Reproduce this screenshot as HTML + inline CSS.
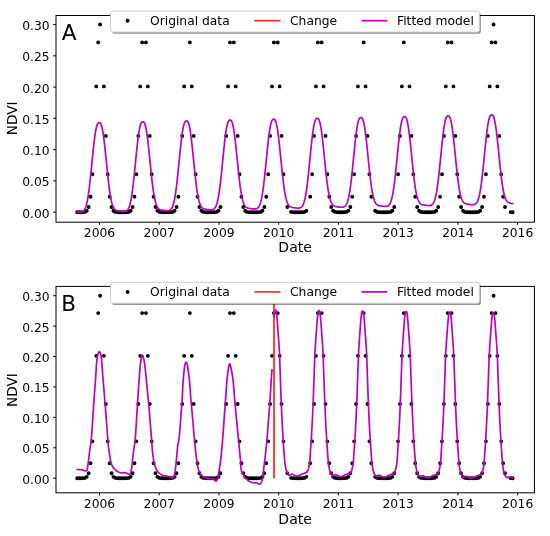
<!DOCTYPE html><html><head><meta charset="utf-8"><style>html,body{margin:0;padding:0;background:#fff;}svg{display:block;}text{font-family:'DejaVu Sans', 'Liberation Sans', sans-serif;fill:#000;}</style></head><body>
<svg width="550" height="536" viewBox="0 0 550 536">
<rect width="550" height="536" fill="#fff"/>
<g><clipPath id="clipA"><rect x="56.00" y="15.50" width="478.40" height="206.70"/></clipPath><path d="M77.18,212.20h0M79.09,212.20h0M81.00,212.19h0M82.91,212.14h0M84.82,211.89h0M86.73,210.80h0M88.64,207.07h0M90.55,196.80h0M92.46,174.31h0M96.28,86.41h0M98.19,42.41h0M100.10,24.55h0M103.92,86.41h0M105.83,135.91h0M107.74,174.31h0M109.65,196.80h0M111.56,207.07h0M113.47,210.80h0M115.38,211.89h0M117.29,212.14h0M119.20,212.19h0M121.11,212.20h0M123.02,212.20h0M124.93,212.19h0M126.84,212.14h0M128.75,211.89h0M130.66,210.80h0M132.57,207.07h0M134.48,196.80h0M136.39,174.31h0M138.30,135.91h0M140.21,86.41h0M142.12,42.41h0M144.03,24.55h0M145.94,42.41h0M147.85,86.41h0M149.76,135.91h0M151.67,174.31h0M153.58,196.80h0M155.49,207.07h0M157.40,210.80h0M159.31,211.89h0M161.22,212.14h0M163.13,212.19h0M165.04,212.20h0M166.95,212.20h0M168.86,212.19h0M170.77,212.14h0M172.68,211.89h0M174.59,210.80h0M176.50,207.07h0M178.41,196.80h0M182.23,135.91h0M184.14,86.41h0M187.96,24.55h0M189.87,42.41h0M191.78,86.41h0M193.69,135.91h0M195.60,174.31h0M197.51,196.80h0M199.42,207.07h0M201.33,210.80h0M203.24,211.89h0M205.15,212.14h0M207.06,212.19h0M208.97,212.20h0M210.88,212.20h0M212.79,212.19h0M214.70,212.14h0M216.61,211.89h0M218.52,210.80h0M220.43,207.07h0M226.16,135.91h0M228.07,86.41h0M229.98,42.41h0M231.89,24.55h0M233.80,42.41h0M235.71,86.41h0M237.62,135.91h0M239.53,174.31h0M241.44,196.80h0M243.35,207.07h0M245.26,210.80h0M247.17,211.89h0M249.08,212.14h0M250.99,212.19h0M252.90,212.20h0M254.81,212.20h0M256.72,212.19h0M258.63,212.14h0M260.54,211.89h0M262.45,210.80h0M264.36,207.07h0M266.27,196.80h0M268.18,174.31h0M270.09,135.91h0M272.00,86.41h0M273.91,42.41h0M275.82,24.55h0M277.73,42.41h0M279.64,86.41h0M281.55,135.91h0M283.46,174.31h0M287.28,207.07h0M291.10,211.89h0M293.01,212.14h0M294.92,212.19h0M296.83,212.20h0M298.74,212.20h0M300.65,212.19h0M302.56,212.14h0M304.47,211.89h0M306.38,210.80h0M310.20,196.80h0M312.11,174.31h0M314.02,135.91h0M315.93,86.41h0M317.84,42.41h0M319.75,24.55h0M321.66,42.41h0M323.57,86.41h0M325.48,135.91h0M327.39,174.31h0M329.30,196.80h0M331.21,207.07h0M333.12,210.80h0M335.03,211.89h0M336.94,212.14h0M338.85,212.19h0M340.76,212.20h0M342.67,212.19h0M344.58,212.14h0M346.49,211.89h0M348.40,210.80h0M350.31,207.07h0M352.22,196.80h0M354.13,174.31h0M356.04,135.91h0M357.95,86.41h0M361.77,24.55h0M363.68,42.41h0M365.59,86.41h0M367.50,135.91h0M369.41,174.31h0M371.32,196.80h0M375.14,210.80h0M377.05,211.89h0M378.96,212.14h0M380.87,212.19h0M382.78,212.20h0M384.69,212.20h0M386.60,212.19h0M388.51,212.14h0M390.42,211.89h0M392.33,210.80h0M394.24,207.07h0M398.06,174.31h0M399.97,135.91h0M401.88,86.41h0M403.79,42.41h0M405.70,24.55h0M409.52,86.41h0M411.43,135.91h0M413.34,174.31h0M415.25,196.80h0M417.16,207.07h0M419.07,210.80h0M420.98,211.89h0M422.89,212.14h0M424.80,212.19h0M426.71,212.20h0M428.62,212.20h0M430.53,212.19h0M432.44,212.14h0M434.35,211.89h0M436.26,210.80h0M438.17,207.07h0M440.08,196.80h0M441.99,174.31h0M443.90,135.91h0M445.81,86.41h0M447.72,42.41h0M449.63,24.55h0M451.54,42.41h0M453.45,86.41h0M455.36,135.91h0M457.27,174.31h0M459.18,196.80h0M461.09,207.07h0M463.00,210.80h0M464.91,211.89h0M466.82,212.14h0M468.73,212.19h0M470.64,212.20h0M472.55,212.20h0M474.46,212.19h0M476.37,212.14h0M478.28,211.89h0M480.19,210.80h0M482.10,207.07h0M484.01,196.80h0M485.92,174.31h0M487.83,135.91h0M489.74,86.41h0M491.65,42.41h0M493.56,24.55h0M495.47,42.41h0M497.38,86.41h0M499.29,135.91h0M501.20,174.31h0M503.11,196.80h0M505.02,207.07h0M510.75,212.14h0M512.66,212.19h0" stroke="#000" stroke-width="3.9" stroke-linecap="round" fill="none" clip-path="url(#clipA)"/><path d="M77.18,212.18 L77.54,212.22 L77.91,212.25 L78.27,212.29 L78.63,212.32 L79.00,212.35 L79.36,212.37 L79.72,212.39 L80.09,212.39 L80.45,212.39 L80.81,212.37 L81.18,212.33 L81.54,212.27 L81.90,212.17 L82.26,212.05 L82.63,211.88 L82.99,211.66 L83.35,211.38 L83.72,211.03 L84.08,210.59 L84.44,210.06 L84.81,209.42 L85.17,208.66 L85.53,207.76 L85.90,206.72 L86.26,205.50 L86.62,204.12 L86.99,202.54 L87.35,200.77 L87.71,198.79 L88.08,196.61 L88.44,194.21 L88.80,191.62 L89.17,188.82 L89.53,185.83 L89.89,182.67 L90.26,179.35 L90.62,175.91 L90.98,172.35 L91.34,168.71 L91.71,165.03 L92.07,161.34 L92.43,157.66 L92.80,154.04 L93.16,150.52 L93.52,147.11 L93.89,143.86 L94.25,140.79 L94.61,137.93 L94.98,135.29 L95.34,132.90 L95.70,130.77 L96.07,128.90 L96.43,127.30 L96.79,125.97 L97.16,124.89 L97.52,124.05 L97.88,123.43 L98.25,123.02 L98.61,122.77 L98.97,122.66 L99.34,122.61 L99.70,122.65 L100.06,122.83 L100.42,123.19 L100.79,123.75 L101.15,124.55 L101.51,125.60 L101.88,126.91 L102.24,128.49 L102.60,130.33 L102.97,132.44 L103.33,134.81 L103.69,137.42 L104.06,140.25 L104.42,143.29 L104.78,146.51 L105.15,149.87 L105.51,153.36 L105.87,156.93 L106.24,160.54 L106.60,164.17 L106.96,167.79 L107.33,171.35 L107.69,174.83 L108.05,178.20 L108.42,181.43 L108.78,184.51 L109.14,187.41 L109.51,190.13 L109.87,192.64 L110.23,194.96 L110.59,197.08 L110.96,198.99 L111.32,200.70 L111.68,202.23 L112.05,203.57 L112.41,204.75 L112.77,205.78 L113.14,206.66 L113.50,207.41 L113.86,208.05 L114.23,208.59 L114.59,209.05 L114.95,209.43 L115.32,209.74 L115.68,210.00 L116.04,210.21 L116.41,210.39 L116.77,210.54 L117.13,210.66 L117.50,210.77 L117.86,210.85 L118.22,210.93 L118.59,211.00 L118.95,211.06 L119.31,211.12 L119.67,211.17 L120.04,211.22 L120.40,211.27 L120.76,211.31 L121.13,211.36 L121.49,211.39 L121.85,211.43 L122.22,211.46 L122.58,211.49 L122.94,211.51 L123.31,211.53 L123.67,211.53 L124.03,211.53 L124.40,211.51 L124.76,211.47 L125.12,211.41 L125.49,211.32 L125.85,211.20 L126.21,211.03 L126.58,210.82 L126.94,210.54 L127.30,210.20 L127.67,209.77 L128.03,209.24 L128.39,208.61 L128.75,207.86 L129.12,206.97 L129.48,205.94 L129.84,204.74 L130.21,203.36 L130.57,201.80 L130.93,200.04 L131.30,198.08 L131.66,195.91 L132.02,193.53 L132.39,190.95 L132.75,188.16 L133.11,185.19 L133.48,182.04 L133.84,178.74 L134.20,175.29 L134.57,171.74 L134.93,168.11 L135.29,164.43 L135.66,160.74 L136.02,157.06 L136.38,153.44 L136.75,149.90 L137.11,146.49 L137.47,143.22 L137.83,140.14 L138.20,137.26 L138.56,134.61 L138.92,132.21 L139.29,130.06 L139.65,128.17 L140.01,126.55 L140.38,125.20 L140.74,124.10 L141.10,123.24 L141.47,122.61 L141.83,122.18 L142.19,121.93 L142.56,121.80 L142.92,121.75 L143.28,121.78 L143.65,121.95 L144.01,122.30 L144.37,122.85 L144.74,123.63 L145.10,124.66 L145.46,125.95 L145.83,127.51 L146.19,129.33 L146.55,131.42 L146.91,133.77 L147.28,136.37 L147.64,139.19 L148.00,142.21 L148.37,145.42 L148.73,148.77 L149.09,152.25 L149.46,155.81 L149.82,159.43 L150.18,163.06 L150.55,166.67 L150.91,170.24 L151.27,173.73 L151.64,177.10 L152.00,180.35 L152.36,183.44 L152.73,186.35 L153.09,189.08 L153.45,191.62 L153.82,193.95 L154.18,196.07 L154.54,198.00 L154.91,199.73 L155.27,201.27 L155.63,202.63 L155.99,203.82 L156.36,204.85 L156.72,205.74 L157.08,206.51 L157.45,207.15 L157.81,207.70 L158.17,208.16 L158.54,208.54 L158.90,208.86 L159.26,209.12 L159.63,209.34 L159.99,209.52 L160.35,209.67 L160.72,209.80 L161.08,209.90 L161.44,209.99 L161.81,210.07 L162.17,210.14 L162.53,210.20 L162.90,210.26 L163.26,210.31 L163.62,210.36 L163.99,210.41 L164.35,210.45 L164.71,210.49 L165.08,210.53 L165.44,210.57 L165.80,210.60 L166.16,210.63 L166.53,210.65 L166.89,210.67 L167.25,210.68 L167.62,210.67 L167.98,210.65 L168.34,210.62 L168.71,210.56 L169.07,210.47 L169.43,210.35 L169.80,210.19 L170.16,209.98 L170.52,209.71 L170.89,209.36 L171.25,208.94 L171.61,208.43 L171.98,207.80 L172.34,207.06 L172.70,206.18 L173.07,205.16 L173.43,203.97 L173.79,202.61 L174.16,201.06 L174.52,199.31 L174.88,197.37 L175.24,195.21 L175.61,192.85 L175.97,190.28 L176.33,187.51 L176.70,184.55 L177.06,181.41 L177.42,178.12 L177.79,174.68 L178.15,171.14 L178.51,167.51 L178.88,163.84 L179.24,160.14 L179.60,156.46 L179.97,152.83 L180.33,149.29 L180.69,145.87 L181.06,142.59 L181.42,139.49 L181.78,136.60 L182.15,133.93 L182.51,131.51 L182.87,129.34 L183.24,127.44 L183.60,125.80 L183.96,124.42 L184.32,123.31 L184.69,122.44 L185.05,121.79 L185.41,121.35 L185.78,121.08 L186.14,120.95 L186.50,120.90 L186.87,120.92 L187.23,121.07 L187.59,121.41 L187.96,121.94 L188.32,122.71 L188.68,123.72 L189.05,124.99 L189.41,126.53 L189.77,128.34 L190.14,130.41 L190.50,132.74 L190.86,135.32 L191.23,138.12 L191.59,141.13 L191.95,144.33 L192.32,147.67 L192.68,151.14 L193.04,154.70 L193.40,158.31 L193.77,161.94 L194.13,165.56 L194.49,169.13 L194.86,172.63 L195.22,176.01 L195.58,179.27 L195.95,182.37 L196.31,185.29 L196.67,188.04 L197.04,190.58 L197.40,192.93 L197.76,195.07 L198.13,197.01 L198.49,198.76 L198.85,200.31 L199.22,201.68 L199.58,202.88 L199.94,203.92 L200.31,204.83 L200.67,205.60 L201.03,206.25 L201.40,206.81 L201.76,207.27 L202.12,207.66 L202.48,207.98 L202.85,208.25 L203.21,208.47 L203.57,208.65 L203.94,208.80 L204.30,208.93 L204.66,209.04 L205.03,209.13 L205.39,209.21 L205.75,209.27 L206.12,209.34 L206.48,209.39 L206.84,209.45 L207.21,209.50 L207.57,209.55 L207.93,209.59 L208.30,209.63 L208.66,209.67 L209.02,209.71 L209.39,209.74 L209.75,209.77 L210.11,209.79 L210.48,209.81 L210.84,209.82 L211.20,209.82 L211.56,209.80 L211.93,209.76 L212.29,209.71 L212.65,209.62 L213.02,209.50 L213.38,209.34 L213.74,209.14 L214.11,208.87 L214.47,208.53 L214.83,208.12 L215.20,207.61 L215.56,206.99 L215.92,206.26 L216.29,205.39 L216.65,204.38 L217.01,203.20 L217.38,201.85 L217.74,200.32 L218.10,198.59 L218.47,196.65 L218.83,194.51 L219.19,192.17 L219.56,189.61 L219.92,186.85 L220.28,183.91 L220.65,180.78 L221.01,177.50 L221.37,174.07 L221.73,170.54 L222.10,166.92 L222.46,163.24 L222.82,159.55 L223.19,155.86 L223.55,152.23 L223.91,148.68 L224.28,145.25 L224.64,141.96 L225.00,138.85 L225.37,135.94 L225.73,133.26 L226.09,130.81 L226.46,128.63 L226.82,126.70 L227.18,125.05 L227.55,123.66 L227.91,122.52 L228.27,121.63 L228.64,120.97 L229.00,120.52 L229.36,120.24 L229.73,120.10 L230.09,120.04 L230.45,120.05 L230.81,120.20 L231.18,120.52 L231.54,121.04 L231.90,121.79 L232.27,122.78 L232.63,124.04 L232.99,125.55 L233.36,127.34 L233.72,129.40 L234.08,131.71 L234.45,134.27 L234.81,137.06 L235.17,140.06 L235.54,143.24 L235.90,146.58 L236.26,150.04 L236.63,153.59 L236.99,157.20 L237.35,160.83 L237.72,164.45 L238.08,168.02 L238.44,171.52 L238.81,174.92 L239.17,178.18 L239.53,181.29 L239.89,184.23 L240.26,186.99 L240.62,189.55 L240.98,191.91 L241.35,194.07 L241.71,196.02 L242.07,197.78 L242.44,199.35 L242.80,200.73 L243.16,201.94 L243.53,203.00 L243.89,203.91 L244.25,204.69 L244.62,205.35 L244.98,205.91 L245.34,206.38 L245.71,206.78 L246.07,207.10 L246.43,207.37 L246.80,207.60 L247.16,207.78 L247.52,207.93 L247.89,208.06 L248.25,208.17 L248.61,208.26 L248.97,208.34 L249.34,208.41 L249.70,208.47 L250.06,208.53 L250.43,208.59 L250.79,208.64 L251.15,208.68 L251.52,208.73 L251.88,208.77 L252.24,208.81 L252.61,208.85 L252.97,208.88 L253.33,208.91 L253.70,208.93 L254.06,208.95 L254.42,208.96 L254.79,208.96 L255.15,208.94 L255.51,208.91 L255.88,208.85 L256.24,208.77 L256.60,208.66 L256.97,208.50 L257.33,208.29 L257.69,208.03 L258.05,207.70 L258.42,207.29 L258.78,206.79 L259.14,206.18 L259.51,205.46 L259.87,204.60 L260.23,203.60 L260.60,202.43 L260.96,201.09 L261.32,199.57 L261.69,197.86 L262.05,195.94 L262.41,193.81 L262.78,191.48 L263.14,188.94 L263.50,186.20 L263.87,183.26 L264.23,180.15 L264.59,176.87 L264.96,173.46 L265.32,169.93 L265.68,166.32 L266.05,162.64 L266.41,158.95 L266.77,155.26 L267.13,151.63 L267.50,148.07 L267.86,144.63 L268.22,141.33 L268.59,138.20 L268.95,135.28 L269.31,132.58 L269.68,130.12 L270.04,127.92 L270.40,125.97 L270.77,124.30 L271.13,122.89 L271.49,121.73 L271.86,120.83 L272.22,120.15 L272.58,119.69 L272.95,119.40 L273.31,119.25 L273.67,119.18 L274.04,119.19 L274.40,119.33 L274.76,119.63 L275.13,120.14 L275.49,120.87 L275.85,121.85 L276.22,123.08 L276.58,124.58 L276.94,126.35 L277.30,128.38 L277.67,130.68 L278.03,133.22 L278.39,136.00 L278.76,138.98 L279.12,142.15 L279.48,145.48 L279.85,148.93 L280.21,152.48 L280.57,156.08 L280.94,159.71 L281.30,163.34 L281.66,166.92 L282.03,170.42 L282.39,173.82 L282.75,177.10 L283.12,180.22 L283.48,183.17 L283.84,185.94 L284.21,188.52 L284.57,190.89 L284.93,193.07 L285.30,195.03 L285.66,196.80 L286.02,198.38 L286.38,199.78 L286.75,201.00 L287.11,202.07 L287.47,202.99 L287.84,203.78 L288.20,204.45 L288.56,205.02 L288.93,205.49 L289.29,205.89 L289.65,206.22 L290.02,206.50 L290.38,206.72 L290.74,206.91 L291.11,207.07 L291.47,207.20 L291.83,207.31 L292.20,207.40 L292.56,207.48 L292.92,207.55 L293.29,207.61 L293.65,207.67 L294.01,207.72 L294.38,207.77 L294.74,207.82 L295.10,207.87 L295.46,207.91 L295.83,207.95 L296.19,207.99 L296.55,208.02 L296.92,208.05 L297.28,208.07 L297.64,208.09 L298.01,208.10 L298.37,208.10 L298.73,208.09 L299.10,208.05 L299.46,208.00 L299.82,207.92 L300.19,207.81 L300.55,207.65 L300.91,207.45 L301.28,207.19 L301.64,206.87 L302.00,206.46 L302.37,205.97 L302.73,205.37 L303.09,204.65 L303.46,203.81 L303.82,202.81 L304.18,201.66 L304.54,200.34 L304.91,198.83 L305.27,197.13 L305.63,195.22 L306.00,193.11 L306.36,190.79 L306.72,188.27 L307.09,185.54 L307.45,182.62 L307.81,179.52 L308.18,176.25 L308.54,172.85 L308.90,169.33 L309.27,165.71 L309.63,162.05 L309.99,158.35 L310.36,154.67 L310.72,151.02 L311.08,147.46 L311.45,144.01 L311.81,140.70 L312.17,137.56 L312.54,134.62 L312.90,131.91 L313.26,129.43 L313.62,127.20 L313.99,125.24 L314.35,123.55 L314.71,122.12 L315.08,120.95 L315.44,120.03 L315.80,119.34 L316.17,118.85 L316.53,118.55 L316.89,118.40 L317.26,118.33 L317.62,118.33 L317.98,118.45 L318.35,118.75 L318.71,119.24 L319.07,119.95 L319.44,120.91 L319.80,122.13 L320.16,123.61 L320.53,125.36 L320.89,127.37 L321.25,129.65 L321.62,132.18 L321.98,134.93 L322.34,137.90 L322.71,141.06 L323.07,144.38 L323.43,147.82 L323.79,151.37 L324.16,154.97 L324.52,158.60 L324.88,162.22 L325.25,165.81 L325.61,169.32 L325.97,172.73 L326.34,176.01 L326.70,179.15 L327.06,182.11 L327.43,184.90 L327.79,187.49 L328.15,189.88 L328.52,192.06 L328.88,194.04 L329.24,195.83 L329.61,197.42 L329.97,198.83 L330.33,200.06 L330.70,201.14 L331.06,202.07 L331.42,202.87 L331.79,203.55 L332.15,204.12 L332.51,204.61 L332.87,205.01 L333.24,205.34 L333.60,205.62 L333.96,205.85 L334.33,206.04 L334.69,206.20 L335.05,206.33 L335.42,206.44 L335.78,206.53 L336.14,206.62 L336.51,206.69 L336.87,206.75 L337.23,206.81 L337.60,206.86 L337.96,206.91 L338.32,206.96 L338.69,207.01 L339.05,207.05 L339.41,207.09 L339.78,207.13 L340.14,207.16 L340.50,207.19 L340.87,207.21 L341.23,207.23 L341.59,207.24 L341.95,207.24 L342.32,207.23 L342.68,207.20 L343.04,207.15 L343.41,207.07 L343.77,206.96 L344.13,206.81 L344.50,206.61 L344.86,206.36 L345.22,206.04 L345.59,205.64 L345.95,205.15 L346.31,204.56 L346.68,203.85 L347.04,203.01 L347.40,202.03 L347.77,200.89 L348.13,199.58 L348.49,198.08 L348.86,196.39 L349.22,194.51 L349.58,192.41 L349.95,190.11 L350.31,187.59 L350.67,184.88 L351.03,181.97 L351.40,178.88 L351.76,175.63 L352.12,172.23 L352.49,168.72 L352.85,165.11 L353.21,161.45 L353.58,157.75 L353.94,154.07 L354.30,150.42 L354.67,146.85 L355.03,143.39 L355.39,140.07 L355.76,136.92 L356.12,133.96 L356.48,131.23 L356.85,128.74 L357.21,126.50 L357.57,124.52 L357.94,122.80 L358.30,121.35 L358.66,120.17 L359.03,119.23 L359.39,118.52 L359.75,118.02 L360.11,117.71 L360.48,117.55 L360.84,117.47 L361.20,117.47 L361.57,117.58 L361.93,117.86 L362.29,118.34 L362.66,119.04 L363.02,119.98 L363.38,121.17 L363.75,122.64 L364.11,124.37 L364.47,126.36 L364.84,128.62 L365.20,131.13 L365.56,133.87 L365.93,136.83 L366.29,139.98 L366.65,143.28 L367.02,146.72 L367.38,150.26 L367.74,153.86 L368.11,157.48 L368.47,161.11 L368.83,164.70 L369.19,168.21 L369.56,171.63 L369.92,174.93 L370.28,178.07 L370.65,181.05 L371.01,183.85 L371.37,186.45 L371.74,188.86 L372.10,191.05 L372.46,193.05 L372.83,194.85 L373.19,196.45 L373.55,197.88 L373.92,199.12 L374.28,200.21 L374.64,201.15 L375.01,201.96 L375.37,202.65 L375.73,203.23 L376.10,203.72 L376.46,204.12 L376.82,204.46 L377.19,204.75 L377.55,204.98 L377.91,205.17 L378.28,205.33 L378.64,205.46 L379.00,205.57 L379.36,205.67 L379.73,205.75 L380.09,205.82 L380.45,205.89 L380.82,205.95 L381.18,206.00 L381.54,206.05 L381.91,206.10 L382.27,206.15 L382.63,206.19 L383.00,206.23 L383.36,206.26 L383.72,206.30 L384.09,206.33 L384.45,206.35 L384.81,206.37 L385.18,206.38 L385.54,206.38 L385.90,206.37 L386.27,206.34 L386.63,206.29 L386.99,206.22 L387.36,206.11 L387.72,205.96 L388.08,205.77 L388.44,205.52 L388.81,205.20 L389.17,204.81 L389.53,204.33 L389.90,203.75 L390.26,203.05 L390.62,202.22 L390.99,201.25 L391.35,200.12 L391.71,198.82 L392.08,197.34 L392.44,195.66 L392.80,193.79 L393.17,191.71 L393.53,189.42 L393.89,186.92 L394.26,184.22 L394.62,181.33 L394.98,178.25 L395.35,175.01 L395.71,171.62 L396.07,168.11 L396.44,164.51 L396.80,160.85 L397.16,157.16 L397.52,153.47 L397.89,149.82 L398.25,146.24 L398.61,142.77 L398.98,139.44 L399.34,136.28 L399.70,133.31 L400.07,130.56 L400.43,128.05 L400.79,125.79 L401.16,123.79 L401.52,122.06 L401.88,120.59 L402.25,119.38 L402.61,118.43 L402.97,117.70 L403.34,117.19 L403.70,116.87 L404.06,116.70 L404.43,116.62 L404.79,116.61 L405.15,116.71 L405.52,116.98 L405.88,117.44 L406.24,118.12 L406.60,119.04 L406.97,120.22 L407.33,121.67 L407.69,123.38 L408.06,125.36 L408.42,127.60 L408.78,130.09 L409.15,132.81 L409.51,135.76 L409.87,138.89 L410.24,142.19 L410.60,145.61 L410.96,149.14 L411.33,152.74 L411.69,156.37 L412.05,160.00 L412.42,163.59 L412.78,167.11 L413.14,170.54 L413.51,173.84 L413.87,177.00 L414.23,179.99 L414.60,182.80 L414.96,185.42 L415.32,187.83 L415.68,190.05 L416.05,192.06 L416.41,193.87 L416.77,195.49 L417.14,196.92 L417.50,198.18 L417.86,199.28 L418.23,200.23 L418.59,201.05 L418.95,201.74 L419.32,202.33 L419.68,202.83 L420.04,203.24 L420.41,203.58 L420.77,203.87 L421.13,204.10 L421.50,204.30 L421.86,204.46 L422.22,204.60 L422.59,204.71 L422.95,204.81 L423.31,204.89 L423.68,204.96 L424.04,205.03 L424.40,205.08 L424.76,205.14 L425.13,205.19 L425.49,205.24 L425.85,205.28 L426.22,205.33 L426.58,205.37 L426.94,205.40 L427.31,205.44 L427.67,205.47 L428.03,205.49 L428.40,205.51 L428.76,205.53 L429.12,205.53 L429.49,205.52 L429.85,205.49 L430.21,205.44 L430.58,205.36 L430.94,205.26 L431.30,205.12 L431.67,204.93 L432.03,204.68 L432.39,204.37 L432.76,203.98 L433.12,203.51 L433.48,202.93 L433.85,202.24 L434.21,201.42 L434.57,200.46 L434.93,199.34 L435.30,198.06 L435.66,196.59 L436.02,194.93 L436.39,193.07 L436.75,191.00 L437.11,188.73 L437.48,186.25 L437.84,183.56 L438.20,180.68 L438.57,177.61 L438.93,174.38 L439.29,171.01 L439.66,167.51 L440.02,163.91 L440.38,160.25 L440.75,156.56 L441.11,152.87 L441.47,149.22 L441.84,145.63 L442.20,142.15 L442.56,138.81 L442.93,135.64 L443.29,132.65 L443.65,129.89 L444.01,127.36 L444.38,125.08 L444.74,123.06 L445.10,121.31 L445.47,119.83 L445.83,118.60 L446.19,117.63 L446.56,116.89 L446.92,116.37 L447.28,116.03 L447.65,115.85 L448.01,115.77 L448.37,115.75 L448.74,115.84 L449.10,116.09 L449.46,116.54 L449.83,117.21 L450.19,118.11 L450.55,119.27 L450.92,120.70 L451.28,122.39 L451.64,124.35 L452.01,126.57 L452.37,129.05 L452.73,131.76 L453.09,134.68 L453.46,137.80 L453.82,141.09 L454.18,144.51 L454.55,148.03 L454.91,151.63 L455.27,155.25 L455.64,158.88 L456.00,162.48 L456.36,166.01 L456.73,169.44 L457.09,172.75 L457.45,175.92 L457.82,178.93 L458.18,181.75 L458.54,184.38 L458.91,186.81 L459.27,189.04 L459.63,191.07 L460.00,192.89 L460.36,194.52 L460.72,195.97 L461.09,197.24 L461.45,198.35 L461.81,199.31 L462.17,200.14 L462.54,200.84 L462.90,201.44 L463.26,201.94 L463.63,202.36 L463.99,202.70 L464.35,202.99 L464.72,203.23 L465.08,203.43 L465.44,203.59 L465.81,203.73 L466.17,203.84 L466.53,203.94 L466.90,204.02 L467.26,204.10 L467.62,204.16 L467.99,204.22 L468.35,204.28 L468.71,204.33 L469.08,204.38 L469.44,204.42 L469.80,204.47 L470.17,204.51 L470.53,204.54 L470.89,204.58 L471.25,204.61 L471.62,204.63 L471.98,204.65 L472.34,204.67 L472.71,204.67 L473.07,204.66 L473.43,204.63 L473.80,204.59 L474.16,204.51 L474.52,204.41 L474.89,204.27 L475.25,204.08 L475.61,203.84 L475.98,203.54 L476.34,203.16 L476.70,202.69 L477.07,202.12 L477.43,201.44 L477.79,200.63 L478.16,199.68 L478.52,198.57 L478.88,197.30 L479.25,195.84 L479.61,194.20 L479.97,192.35 L480.33,190.30 L480.70,188.04 L481.06,185.57 L481.42,182.90 L481.79,180.03 L482.15,176.98 L482.51,173.76 L482.88,170.39 L483.24,166.90 L483.60,163.31 L483.97,159.66 L484.33,155.96 L484.69,152.27 L485.06,148.62 L485.42,145.03 L485.78,141.54 L486.15,138.18 L486.51,135.00 L486.87,132.00 L487.24,129.22 L487.60,126.67 L487.96,124.38 L488.33,122.34 L488.69,120.57 L489.05,119.07 L489.42,117.82 L489.78,116.83 L490.14,116.08 L490.50,115.54 L490.87,115.19 L491.23,115.00 L491.59,114.91 L491.96,114.89 L492.32,114.97 L492.68,115.21 L493.05,115.64 L493.41,116.29 L493.77,117.18 L494.14,118.32 L494.50,119.73 L494.86,121.40 L495.23,123.34 L495.59,125.55 L495.95,128.01 L496.32,130.70 L496.68,133.61 L497.04,136.72 L497.41,139.99 L497.77,143.41 L498.13,146.92 L498.50,150.51 L498.86,154.14 L499.22,157.77 L499.58,161.37 L499.95,164.90 L500.31,168.34 L500.67,171.67 L501.04,174.84 L501.40,177.86 L501.76,180.70 L502.13,183.34 L502.49,185.79 L502.85,188.03 L503.22,190.07 L503.58,191.91 L503.94,193.56 L504.31,195.02 L504.67,196.30 L505.03,197.42 L505.40,198.39 L505.76,199.22 L506.12,199.94 L506.49,200.54 L506.85,201.05 L507.21,201.47 L507.58,201.82 L507.94,202.12 L508.30,202.36 L508.66,202.56 L509.03,202.72 L509.39,202.86 L509.75,202.98 L510.12,203.08 L510.48,203.16 L510.84,203.23 L511.21,203.30 L511.57,203.36 L511.93,203.41 L512.30,203.47 L512.66,203.52" stroke="#bf00bf" stroke-width="1.7" fill="none" stroke-linejoin="round" stroke-linecap="square"/><rect x="56.00" y="15.50" width="478.40" height="206.70" fill="none" stroke="#000" stroke-width="1.0"/><line x1="53.20" y1="212.20" x2="56.00" y2="212.20" stroke="#000" stroke-width="1"/><text x="49.6" y="217.70" font-size="12.3" text-anchor="end">0.00</text><line x1="53.20" y1="180.92" x2="56.00" y2="180.92" stroke="#000" stroke-width="1"/><text x="49.6" y="186.42" font-size="12.3" text-anchor="end">0.05</text><line x1="53.20" y1="149.65" x2="56.00" y2="149.65" stroke="#000" stroke-width="1"/><text x="49.6" y="155.15" font-size="12.3" text-anchor="end">0.10</text><line x1="53.20" y1="118.37" x2="56.00" y2="118.37" stroke="#000" stroke-width="1"/><text x="49.6" y="123.87" font-size="12.3" text-anchor="end">0.15</text><line x1="53.20" y1="87.10" x2="56.00" y2="87.10" stroke="#000" stroke-width="1"/><text x="49.6" y="92.60" font-size="12.3" text-anchor="end">0.20</text><line x1="53.20" y1="55.82" x2="56.00" y2="55.82" stroke="#000" stroke-width="1"/><text x="49.6" y="61.32" font-size="12.3" text-anchor="end">0.25</text><line x1="53.20" y1="24.55" x2="56.00" y2="24.55" stroke="#000" stroke-width="1"/><text x="49.6" y="30.05" font-size="12.3" text-anchor="end">0.30</text><line x1="99.50" y1="222.20" x2="99.50" y2="224.80" stroke="#000" stroke-width="1"/><text x="99.50" y="236.60" font-size="12.3" text-anchor="middle">2006</text><line x1="159.23" y1="222.20" x2="159.23" y2="224.80" stroke="#000" stroke-width="1"/><text x="159.23" y="236.60" font-size="12.3" text-anchor="middle">2007</text><line x1="218.96" y1="222.20" x2="218.96" y2="224.80" stroke="#000" stroke-width="1"/><text x="218.96" y="236.60" font-size="12.3" text-anchor="middle">2009</text><line x1="278.69" y1="222.20" x2="278.69" y2="224.80" stroke="#000" stroke-width="1"/><text x="278.69" y="236.60" font-size="12.3" text-anchor="middle">2010</text><line x1="338.42" y1="222.20" x2="338.42" y2="224.80" stroke="#000" stroke-width="1"/><text x="338.42" y="236.60" font-size="12.3" text-anchor="middle">2011</text><line x1="398.15" y1="222.20" x2="398.15" y2="224.80" stroke="#000" stroke-width="1"/><text x="398.15" y="236.60" font-size="12.3" text-anchor="middle">2013</text><line x1="457.88" y1="222.20" x2="457.88" y2="224.80" stroke="#000" stroke-width="1"/><text x="457.88" y="236.60" font-size="12.3" text-anchor="middle">2014</text><line x1="517.61" y1="222.20" x2="517.61" y2="224.80" stroke="#000" stroke-width="1"/><text x="517.61" y="236.60" font-size="12.3" text-anchor="middle">2016</text><text x="295.2" y="252.10" font-size="14.1" text-anchor="middle">Date</text><text transform="translate(16.6,118.40) rotate(-90)" x="0" y="0" font-size="13.6" text-anchor="middle">NDVI</text><text x="61.8" y="39.80" font-size="21.5">A</text><rect x="112.1" y="12.70" width="368.8" height="21.00" rx="2.2" fill="#000" fill-opacity="0.42"/><rect x="110.6" y="11.10" width="368.8" height="21.00" rx="2.2" fill="#fff" stroke="#ccc" stroke-width="1"/><circle cx="127.6" cy="20.70" r="1.95" fill="#000"/><text x="150.0" y="24.70" font-size="12.3">Original data</text><line x1="254.4" y1="20.70" x2="280.4" y2="20.70" stroke="#ff2e2e" stroke-width="1.7"/><text x="290.0" y="24.70" font-size="12.3">Change</text><line x1="361.6" y1="20.70" x2="387.4" y2="20.70" stroke="#bf00bf" stroke-width="1.7"/><text x="397.0" y="24.70" font-size="12.3">Fitted model</text></g>
<g><clipPath id="clipB"><rect x="56.00" y="286.40" width="478.40" height="206.40"/></clipPath><path d="M77.18,478.20h0M79.09,478.20h0M81.00,478.19h0M82.91,478.14h0M84.82,477.90h0M86.73,476.84h0M88.64,473.21h0M90.55,463.22h0M92.46,441.36h0M96.28,355.87h0M98.19,313.08h0M100.10,295.71h0M103.92,355.87h0M105.83,404.01h0M107.74,441.36h0M109.65,463.22h0M111.56,473.21h0M113.47,476.84h0M115.38,477.90h0M117.29,478.14h0M119.20,478.19h0M121.11,478.20h0M123.02,478.20h0M124.93,478.19h0M126.84,478.14h0M128.75,477.90h0M130.66,476.84h0M132.57,473.21h0M134.48,463.22h0M136.39,441.36h0M138.30,404.01h0M140.21,355.87h0M142.12,313.08h0M144.03,295.71h0M145.94,313.08h0M147.85,355.87h0M149.76,404.01h0M151.67,441.36h0M153.58,463.22h0M155.49,473.21h0M157.40,476.84h0M159.31,477.90h0M161.22,478.14h0M163.13,478.19h0M165.04,478.20h0M166.95,478.20h0M168.86,478.19h0M170.77,478.14h0M172.68,477.90h0M174.59,476.84h0M176.50,473.21h0M178.41,463.22h0M182.23,404.01h0M184.14,355.87h0M187.96,295.71h0M189.87,313.08h0M191.78,355.87h0M193.69,404.01h0M195.60,441.36h0M197.51,463.22h0M199.42,473.21h0M201.33,476.84h0M203.24,477.90h0M205.15,478.14h0M207.06,478.19h0M208.97,478.20h0M210.88,478.20h0M212.79,478.19h0M214.70,478.14h0M216.61,477.90h0M218.52,476.84h0M220.43,473.21h0M226.16,404.01h0M228.07,355.87h0M229.98,313.08h0M231.89,295.71h0M233.80,313.08h0M235.71,355.87h0M237.62,404.01h0M239.53,441.36h0M241.44,463.22h0M243.35,473.21h0M245.26,476.84h0M247.17,477.90h0M249.08,478.14h0M250.99,478.19h0M252.90,478.20h0M254.81,478.20h0M256.72,478.19h0M258.63,478.14h0M260.54,477.90h0M262.45,476.84h0M264.36,473.21h0M266.27,463.22h0M268.18,441.36h0M270.09,404.01h0M272.00,355.87h0M273.91,313.08h0M275.82,295.71h0M277.73,313.08h0M279.64,355.87h0M281.55,404.01h0M283.46,441.36h0M287.28,473.21h0M291.10,477.90h0M293.01,478.14h0M294.92,478.19h0M296.83,478.20h0M298.74,478.20h0M300.65,478.19h0M302.56,478.14h0M304.47,477.90h0M306.38,476.84h0M310.20,463.22h0M312.11,441.36h0M314.02,404.01h0M315.93,355.87h0M317.84,313.08h0M319.75,295.71h0M321.66,313.08h0M323.57,355.87h0M325.48,404.01h0M327.39,441.36h0M329.30,463.22h0M331.21,473.21h0M333.12,476.84h0M335.03,477.90h0M336.94,478.14h0M338.85,478.19h0M340.76,478.20h0M342.67,478.19h0M344.58,478.14h0M346.49,477.90h0M348.40,476.84h0M350.31,473.21h0M352.22,463.22h0M354.13,441.36h0M356.04,404.01h0M357.95,355.87h0M361.77,295.71h0M363.68,313.08h0M365.59,355.87h0M367.50,404.01h0M369.41,441.36h0M371.32,463.22h0M375.14,476.84h0M377.05,477.90h0M378.96,478.14h0M380.87,478.19h0M382.78,478.20h0M384.69,478.20h0M386.60,478.19h0M388.51,478.14h0M390.42,477.90h0M392.33,476.84h0M394.24,473.21h0M398.06,441.36h0M399.97,404.01h0M401.88,355.87h0M403.79,313.08h0M405.70,295.71h0M409.52,355.87h0M411.43,404.01h0M413.34,441.36h0M415.25,463.22h0M417.16,473.21h0M419.07,476.84h0M420.98,477.90h0M422.89,478.14h0M424.80,478.19h0M426.71,478.20h0M428.62,478.20h0M430.53,478.19h0M432.44,478.14h0M434.35,477.90h0M436.26,476.84h0M438.17,473.21h0M440.08,463.22h0M441.99,441.36h0M443.90,404.01h0M445.81,355.87h0M447.72,313.08h0M449.63,295.71h0M451.54,313.08h0M453.45,355.87h0M455.36,404.01h0M457.27,441.36h0M459.18,463.22h0M461.09,473.21h0M463.00,476.84h0M464.91,477.90h0M466.82,478.14h0M468.73,478.19h0M470.64,478.20h0M472.55,478.20h0M474.46,478.19h0M476.37,478.14h0M478.28,477.90h0M480.19,476.84h0M482.10,473.21h0M484.01,463.22h0M485.92,441.36h0M487.83,404.01h0M489.74,355.87h0M491.65,313.08h0M493.56,295.71h0M495.47,313.08h0M497.38,355.87h0M499.29,404.01h0M501.20,441.36h0M503.11,463.22h0M505.02,473.21h0M510.75,478.14h0M512.66,478.19h0" stroke="#000" stroke-width="3.9" stroke-linecap="round" fill="none" clip-path="url(#clipB)"/><line x1="274.0" y1="478.20" x2="274.0" y2="295.71" stroke="#ff2e2e" stroke-width="1.8"/><path d="M77.18,469.50 L77.67,469.51 L78.16,469.52 L78.65,469.53 L79.14,469.54 L79.62,469.56 L80.10,469.60 L80.54,469.64 L80.98,469.69 L81.41,469.75 L81.84,469.81 L82.27,469.90 L82.70,470.00 L83.15,470.16 L83.60,470.37 L84.05,470.60 L84.49,470.80 L84.91,470.95 L85.30,471.00 L85.58,470.97 L85.86,470.92 L86.12,470.82 L86.37,470.69 L86.59,470.52 L86.80,470.30 L87.08,469.80 L87.28,469.14 L87.43,468.36 L87.55,467.50 L87.66,466.60 L87.80,465.70 L88.00,464.46 L88.19,463.11 L88.37,461.70 L88.55,460.26 L88.73,458.81 L88.90,457.40 L89.07,456.03 L89.23,454.66 L89.39,453.29 L89.55,451.92 L89.72,450.56 L89.90,449.20 L90.09,447.93 L90.28,446.76 L90.48,445.59 L90.69,444.33 L90.89,442.90 L91.10,441.20 L91.58,436.02 L92.08,429.30 L92.59,421.68 L93.09,413.83 L93.56,406.39 L94.00,400.00 L94.27,396.27 L94.52,392.87 L94.76,389.66 L95.00,386.53 L95.24,383.35 L95.50,380.00 L95.78,375.91 L96.05,371.44 L96.33,366.91 L96.64,362.65 L96.99,358.97 L97.40,356.20 L97.58,355.38 L97.78,354.66 L97.98,354.04 L98.19,353.50 L98.39,353.03 L98.60,352.60 L98.71,352.37 L98.83,352.14 L98.94,351.93 L99.06,351.76 L99.18,351.64 L99.30,351.60 L99.43,351.64 L99.57,351.75 L99.70,351.92 L99.84,352.13 L99.97,352.36 L100.10,352.60 L100.29,353.02 L100.47,353.50 L100.64,354.04 L100.79,354.67 L100.95,355.38 L101.10,356.20 L101.48,358.97 L101.83,362.65 L102.16,366.91 L102.47,371.44 L102.78,375.91 L103.10,380.00 L103.39,383.35 L103.66,386.53 L103.93,389.66 L104.21,392.87 L104.49,396.27 L104.80,400.00 L105.31,406.43 L105.88,413.95 L106.48,421.89 L107.06,429.55 L107.58,436.25 L108.00,441.30 L108.13,442.78 L108.25,444.01 L108.35,445.08 L108.45,446.07 L108.57,447.08 L108.70,448.20 L108.87,449.54 L109.07,450.94 L109.27,452.35 L109.48,453.75 L109.69,455.11 L109.90,456.40 L110.05,457.42 L110.19,458.40 L110.33,459.35 L110.48,460.27 L110.67,461.19 L110.90,462.10 L111.17,463.00 L111.48,463.91 L111.81,464.81 L112.18,465.67 L112.57,466.48 L113.00,467.20 L113.37,467.72 L113.77,468.19 L114.19,468.62 L114.62,469.02 L115.06,469.41 L115.50,469.80 L115.92,470.17 L116.33,470.53 L116.76,470.88 L117.19,471.21 L117.64,471.52 L118.10,471.80 L118.59,472.07 L119.09,472.32 L119.61,472.55 L120.14,472.75 L120.67,472.90 L121.20,473.00 L121.71,473.01 L122.23,472.94 L122.75,472.82 L123.27,472.70 L123.79,472.61 L124.30,472.60 L124.81,472.66 L125.33,472.76 L125.85,472.90 L126.35,473.06 L126.84,473.23 L127.30,473.40 L127.67,473.58 L128.03,473.81 L128.37,474.05 L128.70,474.26 L129.01,474.39 L129.30,474.40 L129.56,474.29 L129.80,474.10 L130.02,473.83 L130.22,473.52 L130.42,473.17 L130.60,472.80 L130.86,472.15 L131.07,471.39 L131.24,470.54 L131.40,469.63 L131.55,468.68 L131.70,467.70 L131.90,466.32 L132.07,464.82 L132.23,463.24 L132.38,461.63 L132.54,460.03 L132.70,458.50 L132.86,457.11 L133.02,455.74 L133.18,454.39 L133.35,453.04 L133.52,451.68 L133.70,450.30 L133.90,448.90 L134.12,447.56 L134.34,446.21 L134.56,444.78 L134.78,443.17 L135.00,441.30 L135.44,436.33 L135.89,430.03 L136.34,423.01 L136.77,415.89 L137.16,409.29 L137.50,403.80 L137.67,401.13 L137.83,398.76 L137.96,396.58 L138.10,394.47 L138.24,392.32 L138.40,390.00 L138.60,387.15 L138.80,384.18 L139.01,381.14 L139.24,378.12 L139.46,375.18 L139.70,372.40 L139.89,370.14 L140.08,367.89 L140.27,365.70 L140.48,363.62 L140.72,361.71 L141.00,360.00 L141.21,358.93 L141.43,357.83 L141.66,356.79 L141.90,355.92 L142.15,355.33 L142.40,355.10 L142.66,355.32 L142.94,355.91 L143.22,356.78 L143.49,357.82 L143.76,358.93 L144.00,360.00 L144.33,361.71 L144.62,363.62 L144.88,365.70 L145.12,367.89 L145.35,370.14 L145.60,372.40 L145.90,375.18 L146.19,378.12 L146.47,381.14 L146.75,384.18 L147.03,387.15 L147.30,390.00 L147.54,392.32 L147.76,394.47 L147.99,396.58 L148.21,398.76 L148.45,401.13 L148.70,403.80 L149.17,409.28 L149.71,415.89 L150.28,423.01 L150.82,430.02 L151.31,436.32 L151.70,441.30 L151.84,443.15 L151.95,444.74 L152.05,446.15 L152.15,447.49 L152.26,448.84 L152.40,450.30 L152.57,451.98 L152.75,453.71 L152.94,455.46 L153.16,457.19 L153.41,458.88 L153.70,460.50 L153.98,461.88 L154.27,463.24 L154.58,464.57 L154.94,465.85 L155.34,467.07 L155.80,468.20 L156.23,469.08 L156.69,469.93 L157.19,470.72 L157.72,471.47 L158.29,472.16 L158.90,472.80 L159.51,473.35 L160.17,473.86 L160.86,474.32 L161.57,474.74 L162.28,475.10 L163.00,475.40 L163.67,475.61 L164.37,475.75 L165.07,475.84 L165.77,475.91 L166.45,475.99 L167.10,476.10 L167.65,476.22 L168.20,476.34 L168.73,476.47 L169.24,476.60 L169.73,476.75 L170.20,476.90 L170.57,477.06 L170.92,477.26 L171.25,477.46 L171.58,477.64 L171.89,477.76 L172.20,477.80 L172.47,477.76 L172.74,477.67 L173.01,477.54 L173.26,477.36 L173.49,477.15 L173.70,476.90 L173.97,476.42 L174.19,475.82 L174.36,475.13 L174.51,474.38 L174.65,473.59 L174.80,472.80 L175.00,471.75 L175.17,470.63 L175.34,469.46 L175.50,468.24 L175.65,466.98 L175.80,465.70 L175.98,464.10 L176.15,462.41 L176.31,460.67 L176.47,458.90 L176.64,457.14 L176.80,455.40 L176.96,453.64 L177.11,451.83 L177.26,450.02 L177.42,448.26 L177.60,446.61 L177.80,445.10 L177.96,444.20 L178.14,443.44 L178.33,442.73 L178.52,441.98 L178.71,441.10 L178.90,440.00 L179.42,435.45 L179.98,429.01 L180.54,421.65 L181.05,414.35 L181.49,408.08 L181.80,403.80 L181.87,402.98 L181.92,402.36 L181.96,401.84 L182.00,401.34 L182.05,400.76 L182.10,400.00 L182.25,397.50 L182.41,394.24 L182.59,390.55 L182.79,386.74 L182.99,383.12 L183.20,380.00 L183.35,378.10 L183.51,376.32 L183.68,374.62 L183.85,373.02 L184.02,371.48 L184.20,370.00 L184.33,368.87 L184.45,367.75 L184.58,366.67 L184.72,365.67 L184.89,364.77 L185.10,364.00 L185.25,363.59 L185.41,363.17 L185.58,362.80 L185.75,362.49 L185.93,362.28 L186.10,362.20 L186.27,362.28 L186.44,362.49 L186.62,362.80 L186.79,363.17 L186.95,363.59 L187.10,364.00 L187.32,364.77 L187.50,365.67 L187.66,366.67 L187.80,367.75 L187.94,368.87 L188.10,370.00 L188.32,371.48 L188.54,373.02 L188.76,374.62 L188.98,376.31 L189.19,378.10 L189.40,380.00 L189.68,383.12 L189.96,386.74 L190.23,390.55 L190.47,394.24 L190.70,397.50 L190.90,400.00 L190.97,400.76 L191.03,401.34 L191.09,401.84 L191.15,402.36 L191.22,402.98 L191.30,403.80 L191.68,407.95 L192.21,413.94 L192.82,420.97 L193.45,428.20 L194.03,434.81 L194.50,440.00 L194.69,442.08 L194.86,443.90 L195.01,445.55 L195.16,447.10 L195.32,448.66 L195.50,450.30 L195.69,452.01 L195.89,453.72 L196.09,455.44 L196.31,457.14 L196.55,458.83 L196.80,460.50 L197.05,462.11 L197.30,463.75 L197.56,465.37 L197.85,466.95 L198.19,468.43 L198.60,469.80 L198.95,470.78 L199.33,471.72 L199.74,472.61 L200.18,473.44 L200.66,474.20 L201.20,474.90 L201.72,475.45 L202.29,475.96 L202.88,476.41 L203.51,476.82 L204.15,477.18 L204.80,477.50 L205.45,477.76 L206.12,477.97 L206.81,478.14 L207.51,478.27 L208.21,478.39 L208.90,478.50 L209.61,478.57 L210.35,478.59 L211.09,478.58 L211.80,478.60 L212.45,478.66 L213.00,478.80 L213.31,478.95 L213.58,479.14 L213.82,479.36 L214.05,479.58 L214.27,479.80 L214.50,480.00 L214.72,480.20 L214.94,480.42 L215.16,480.63 L215.37,480.82 L215.58,480.95 L215.80,481.00 L216.02,480.96 L216.25,480.86 L216.48,480.69 L216.70,480.49 L216.91,480.25 L217.10,480.00 L217.34,479.56 L217.53,479.02 L217.68,478.41 L217.82,477.76 L217.96,477.08 L218.10,476.40 L218.28,475.55 L218.45,474.65 L218.62,473.72 L218.78,472.77 L218.94,471.79 L219.10,470.80 L219.29,469.66 L219.47,468.49 L219.66,467.29 L219.85,466.07 L220.03,464.84 L220.20,463.60 L220.38,462.27 L220.56,460.93 L220.73,459.56 L220.89,458.19 L221.05,456.80 L221.20,455.40 L221.35,453.88 L221.49,452.31 L221.62,450.72 L221.75,449.15 L221.87,447.63 L222.00,446.20 L222.10,445.16 L222.19,444.24 L222.28,443.36 L222.38,442.42 L222.48,441.33 L222.60,440.00 L222.98,435.19 L223.45,428.74 L223.98,421.32 L224.53,413.61 L225.05,406.28 L225.50,400.00 L225.77,396.19 L226.03,392.57 L226.26,389.14 L226.50,385.90 L226.74,382.85 L227.00,380.00 L227.18,378.10 L227.36,376.32 L227.55,374.63 L227.74,373.02 L227.95,371.48 L228.20,370.00 L228.42,368.73 L228.66,367.36 L228.91,366.03 L229.17,364.89 L229.43,364.10 L229.70,363.80 L229.98,364.09 L230.27,364.89 L230.56,366.02 L230.85,367.36 L231.14,368.73 L231.40,370.00 L231.70,371.48 L231.99,373.02 L232.26,374.63 L232.51,376.32 L232.76,378.10 L233.00,380.00 L233.31,382.85 L233.58,385.90 L233.84,389.14 L234.10,392.57 L234.38,396.19 L234.70,400.00 L235.27,406.18 L235.94,413.29 L236.65,420.78 L237.35,428.10 L237.99,434.69 L238.50,440.00 L238.70,442.11 L238.88,443.93 L239.04,445.57 L239.19,447.12 L239.34,448.66 L239.50,450.30 L239.67,452.00 L239.83,453.70 L240.00,455.40 L240.17,457.10 L240.33,458.80 L240.50,460.50 L240.63,462.25 L240.72,464.04 L240.81,465.84 L240.94,467.59 L241.15,469.26 L241.50,470.80 L241.89,471.96 L242.35,473.08 L242.87,474.13 L243.43,475.13 L244.01,476.05 L244.60,476.90 L245.08,477.52 L245.58,478.08 L246.10,478.60 L246.63,479.09 L247.16,479.55 L247.70,480.00 L248.19,480.41 L248.69,480.80 L249.19,481.18 L249.70,481.52 L250.24,481.83 L250.80,482.10 L251.44,482.32 L252.14,482.50 L252.85,482.63 L253.57,482.73 L254.26,482.82 L254.90,482.90 L255.37,482.94 L255.83,482.96 L256.26,482.97 L256.69,482.98 L257.10,483.02 L257.50,483.10 L257.86,483.25 L258.21,483.46 L258.55,483.69 L258.87,483.90 L259.19,484.05 L259.50,484.10 L259.77,484.05 L260.04,483.94 L260.30,483.78 L260.55,483.58 L260.79,483.35 L261.00,483.10 L261.25,482.71 L261.46,482.26 L261.64,481.75 L261.80,481.19 L261.95,480.61 L262.10,480.00 L262.30,479.12 L262.48,478.16 L262.64,477.14 L262.80,476.08 L262.95,474.99 L263.10,473.90 L263.28,472.61 L263.44,471.28 L263.61,469.91 L263.77,468.52 L263.93,467.11 L264.10,465.70 L264.28,464.18 L264.47,462.64 L264.65,461.08 L264.84,459.52 L265.02,457.95 L265.20,456.40 L265.37,454.85 L265.55,453.29 L265.72,451.73 L265.89,450.18 L266.05,448.67 L266.20,447.20 L266.32,446.02 L266.43,444.95 L266.54,443.91 L266.65,442.80 L266.76,441.53 L266.90,440.00 L267.32,435.05 L267.84,428.56 L268.43,421.17 L269.01,413.52 L269.55,406.25 L270.00,400.00 L270.25,396.19 L270.46,392.57 L270.66,389.14 L270.84,385.90 L271.01,382.86 L271.20,380.00 L271.34,378.13 L271.47,376.41 L271.60,374.78 L271.73,373.21 L271.87,371.63 L272.00,370.00" stroke="#bf00bf" stroke-width="1.7" fill="none" stroke-linejoin="round" stroke-linecap="square"/><path d="M273.90,316.69 L274.17,314.40 L274.43,312.12 L274.70,310.93 L274.96,310.27 L275.23,310.08 L275.49,310.02 L275.76,310.22 L276.02,310.70 L276.29,311.52 L276.56,313.75 L276.82,316.05 L277.09,319.00 L277.35,322.23 L277.62,325.77 L277.88,329.37 L278.15,332.97 L278.41,336.58 L278.68,340.45 L278.95,344.46 L279.21,348.47 L279.48,352.48 L279.74,360.06 L280.01,367.97 L280.27,375.84 L280.54,383.32 L280.81,390.81 L281.07,398.29 L281.34,404.91 L281.60,410.69 L281.87,416.48 L282.13,422.26 L282.40,426.98 L282.66,431.63 L282.93,436.27 L283.20,440.66 L283.46,444.60 L283.73,448.54 L283.99,452.37 L284.26,455.60 L284.52,458.83 L284.79,462.07 L285.05,464.28 L285.32,465.75 L285.59,467.22 L285.85,468.69 L286.12,469.84 L286.38,470.59 L286.65,471.33 L286.91,472.08 L287.18,472.82 L287.44,473.20 L287.71,473.56 L287.98,473.91 L288.24,474.27 L288.51,474.62 L288.77,474.98 L289.04,475.10 L289.30,475.01 L289.57,474.92 L289.84,474.83 L290.10,474.73 L290.37,474.64 L290.63,474.55 L290.90,474.47 L291.16,474.40 L291.43,474.32 L291.69,474.24 L291.96,474.16 L292.23,474.11 L292.49,474.24 L292.76,474.38 L293.02,474.51 L293.29,474.65 L293.55,474.79 L293.82,474.92 L294.08,475.06 L294.35,475.19 L294.62,475.33 L294.88,475.47 L295.15,475.58 L295.41,475.68 L295.68,475.78 L295.94,475.88 L296.21,475.98 L296.47,476.08 L296.74,476.17 L297.01,476.27 L297.27,476.31 L297.54,476.20 L297.80,476.09 L298.07,475.98 L298.33,475.88 L298.60,475.77 L298.86,475.66 L299.13,475.56 L299.40,475.45 L299.66,475.30 L299.93,475.15 L300.19,474.99 L300.46,474.84 L300.72,474.69 L300.99,474.54 L301.26,474.39 L301.52,474.25 L301.79,474.16 L302.05,474.07 L302.32,473.98 L302.58,473.89 L302.85,473.80 L303.11,473.71 L303.38,473.62 L303.65,473.52 L303.91,473.42 L304.18,473.32 L304.44,473.22 L304.71,473.12 L304.97,473.02 L305.24,472.92 L305.50,472.81 L305.77,472.71 L306.04,472.61 L306.30,472.48 L306.57,472.30 L306.83,472.13 L307.10,471.95 L307.36,471.48 L307.63,470.87 L307.89,470.27 L308.16,469.67 L308.43,468.93 L308.69,467.61 L308.96,466.29 L309.22,464.97 L309.49,463.61 L309.75,461.35 L310.02,459.09 L310.29,454.75 L310.55,450.31 L310.82,446.38 L311.08,442.45 L311.35,438.33 L311.61,433.69 L311.88,429.05 L312.14,424.41 L312.41,418.98 L312.68,413.20 L312.94,407.42 L313.21,401.44 L313.47,393.96 L313.74,386.48 L314.00,379.00 L314.27,371.30 L314.53,363.39 L314.80,355.49 L315.07,350.39 L315.33,346.38 L315.60,342.38 L315.86,338.38 L316.13,334.76 L316.39,331.17 L316.66,327.57 L316.92,323.98 L317.19,320.68 L317.46,317.45 L317.72,315.10 L317.99,312.81 L318.25,311.52 L318.52,310.81 L318.78,310.62 L319.05,310.54 L319.31,310.74 L319.58,311.18 L319.85,311.99 L320.11,314.12 L320.38,316.41 L320.64,319.30 L320.91,322.53 L321.17,326.04 L321.44,329.64 L321.71,333.24 L321.97,336.84 L322.24,340.69 L322.50,344.70 L322.77,348.71 L323.03,352.72 L323.30,360.02 L323.56,367.92 L323.83,375.83 L324.10,383.31 L324.36,390.80 L324.63,398.28 L324.89,405.02 L325.16,410.80 L325.42,416.59 L325.69,422.37 L325.95,427.18 L326.22,431.82 L326.49,436.47 L326.75,440.91 L327.02,444.85 L327.28,448.78 L327.55,452.66 L327.81,455.90 L328.08,459.13 L328.34,462.36 L328.61,464.70 L328.88,466.17 L329.14,467.64 L329.41,469.12 L329.67,470.32 L329.94,471.06 L330.20,471.81 L330.47,472.55 L330.73,473.30 L331.00,473.71 L331.27,474.06 L331.53,474.42 L331.80,474.77 L332.06,475.13 L332.33,475.48 L332.59,475.64 L332.86,475.55 L333.13,475.45 L333.39,475.36 L333.66,475.27 L333.92,475.18 L334.19,475.09 L334.45,475.01 L334.72,474.93 L334.98,474.85 L335.25,474.78 L335.52,474.70 L335.78,474.63 L336.05,474.76 L336.31,474.90 L336.58,475.04 L336.84,475.17 L337.11,475.31 L337.37,475.44 L337.64,475.58 L337.91,475.71 L338.17,475.85 L338.44,475.99 L338.70,476.10 L338.97,476.20 L339.23,476.30 L339.50,476.40 L339.76,476.50 L340.03,476.60 L340.30,476.70 L340.56,476.80 L340.83,476.84 L341.09,476.74 L341.36,476.63 L341.62,476.52 L341.89,476.42 L342.16,476.31 L342.42,476.20 L342.69,476.10 L342.95,475.99 L343.22,475.84 L343.48,475.69 L343.75,475.54 L344.01,475.39 L344.28,475.23 L344.55,475.08 L344.81,474.93 L345.08,474.79 L345.34,474.70 L345.61,474.61 L345.87,474.52 L346.14,474.43 L346.40,474.34 L346.67,474.25 L346.94,474.16 L347.20,474.06 L347.47,473.96 L347.73,473.86 L348.00,473.75 L348.26,473.65 L348.53,473.55 L348.79,473.45 L349.06,473.35 L349.33,473.25 L349.59,473.15 L349.86,473.02 L350.12,472.85 L350.39,472.67 L350.65,472.50 L350.92,472.05 L351.18,471.45 L351.45,470.84 L351.72,470.24 L351.98,469.55 L352.25,468.24 L352.51,466.92 L352.78,465.60 L353.04,464.28 L353.31,462.04 L353.58,459.78 L353.84,455.64 L354.11,451.13 L354.37,447.20 L354.64,443.27 L354.90,439.19 L355.17,434.56 L355.43,429.92 L355.70,425.28 L355.97,419.93 L356.23,414.15 L356.50,408.37 L356.76,402.51 L357.03,395.03 L357.29,387.55 L357.56,380.08 L357.82,372.40 L358.09,364.50 L358.36,356.59 L358.62,351.21 L358.89,347.20 L359.15,343.20 L359.42,339.20 L359.68,335.55 L359.95,331.96 L360.21,328.36 L360.48,324.77 L360.75,321.44 L361.01,318.21 L361.28,315.79 L361.54,313.51 L361.81,312.10 L362.07,311.35 L362.34,311.16 L362.61,311.05 L362.87,311.25 L363.14,311.65 L363.40,312.46 L363.67,314.48 L363.93,316.77 L364.20,319.59 L364.46,322.83 L364.73,326.31 L365.00,329.91 L365.26,333.51 L365.53,337.11 L365.79,340.93 L366.06,344.94 L366.32,348.95 L366.59,352.96 L366.85,359.97 L367.12,367.88 L367.39,375.79 L367.65,383.30 L367.92,390.79 L368.18,398.27 L368.45,405.13 L368.71,410.92 L368.98,416.70 L369.24,422.49 L369.51,427.37 L369.78,432.01 L370.04,436.66 L370.31,441.15 L370.57,445.09 L370.84,449.03 L371.10,452.96 L371.37,456.19 L371.63,459.43 L371.90,462.66 L372.17,465.12 L372.43,466.60 L372.70,468.07 L372.96,469.54 L373.23,470.80 L373.49,471.54 L373.76,472.28 L374.03,473.03 L374.29,473.77 L374.56,474.21 L374.82,474.57 L375.09,474.92 L375.35,475.28 L375.62,475.63 L375.88,475.99 L376.15,476.17 L376.42,476.08 L376.68,475.99 L376.95,475.90 L377.21,475.81 L377.48,475.72 L377.74,475.62 L378.01,475.55 L378.27,475.47 L378.54,475.39 L378.81,475.31 L379.07,475.24 L379.34,475.16 L379.60,475.28 L379.87,475.42 L380.13,475.56 L380.40,475.69 L380.66,475.83 L380.93,475.96 L381.20,476.10 L381.46,476.24 L381.73,476.37 L381.99,476.51 L382.26,476.63 L382.52,476.73 L382.79,476.83 L383.06,476.92 L383.32,477.02 L383.59,477.12 L383.85,477.22 L384.12,477.32 L384.38,477.38 L384.65,477.27 L384.91,477.17 L385.18,477.06 L385.45,476.95 L385.71,476.85 L385.98,476.74 L386.24,476.63 L386.51,476.53 L386.77,476.38 L387.04,476.23 L387.30,476.08 L387.57,475.93 L387.84,475.78 L388.10,475.63 L388.37,475.47 L388.63,475.33 L388.90,475.24 L389.16,475.14 L389.43,475.05 L389.69,474.96 L389.96,474.87 L390.23,474.78 L390.49,474.69 L390.76,474.59 L391.02,474.49 L391.29,474.39 L391.55,474.29 L391.82,474.19 L392.08,474.09 L392.35,473.99 L392.62,473.89 L392.88,473.79 L393.15,473.69 L393.41,473.56 L393.68,473.39 L393.94,473.21 L394.21,473.04 L394.48,472.62 L394.74,472.02 L395.01,471.42 L395.27,470.82 L395.54,470.18 L395.80,468.86 L396.07,467.54 L396.33,466.22 L396.60,464.91 L396.87,462.74 L397.13,460.48 L397.40,456.52 L397.66,451.94 L397.93,448.01 L398.19,444.08 L398.46,440.06 L398.72,435.42 L398.99,430.78 L399.26,426.14 L399.52,420.88 L399.79,415.10 L400.05,409.32 L400.32,403.54 L400.58,396.11 L400.85,388.63 L401.11,381.15 L401.38,373.50 L401.65,365.60 L401.91,357.70 L402.18,352.03 L402.44,348.02 L402.71,344.02 L402.97,340.02 L403.24,336.34 L403.50,332.75 L403.77,329.15 L404.04,325.56 L404.30,322.21 L404.57,318.98 L404.83,316.49 L405.10,314.20 L405.36,312.69 L405.63,311.90 L405.90,311.71 L406.16,311.57 L406.43,311.77 L406.69,312.12 L406.96,312.93 L407.22,314.85 L407.49,317.14 L407.75,319.89 L408.02,323.12 L408.29,326.58 L408.55,330.18 L408.82,333.78 L409.08,337.38 L409.35,341.17 L409.61,345.18 L409.88,349.19 L410.14,353.20 L410.41,359.93 L410.68,367.84 L410.94,375.75 L411.21,383.29 L411.47,390.77 L411.74,398.26 L412.00,405.24 L412.27,411.03 L412.53,416.81 L412.80,422.60 L413.07,427.56 L413.33,432.21 L413.60,436.85 L413.86,441.40 L414.13,445.34 L414.39,449.27 L414.66,453.21 L414.93,456.49 L415.19,459.72 L415.46,462.96 L415.72,465.55 L415.99,467.02 L416.25,468.49 L416.52,469.96 L416.78,471.27 L417.05,472.02 L417.32,472.76 L417.58,473.50 L417.85,474.25 L418.11,474.72 L418.38,475.07 L418.64,475.43 L418.91,475.78 L419.17,476.14 L419.44,476.49 L419.71,476.71 L419.97,476.62 L420.24,476.53 L420.50,476.44 L420.77,476.34 L421.03,476.25 L421.30,476.16 L421.56,476.08 L421.83,476.00 L422.10,475.93 L422.36,475.85 L422.63,475.77 L422.89,475.69 L423.16,475.80 L423.42,475.94 L423.69,476.08 L423.95,476.21 L424.22,476.35 L424.49,476.48 L424.75,476.62 L425.02,476.76 L425.28,476.89 L425.55,477.03 L425.81,477.15 L426.08,477.25 L426.35,477.35 L426.61,477.45 L426.88,477.55 L427.14,477.64 L427.41,477.74 L427.67,477.84 L427.94,477.92 L428.20,477.81 L428.47,477.71 L428.74,477.60 L429.00,477.49 L429.27,477.38 L429.53,477.28 L429.80,477.17 L430.06,477.06 L430.33,476.92 L430.59,476.77 L430.86,476.62 L431.13,476.47 L431.39,476.32 L431.66,476.17 L431.92,476.02 L432.19,475.86 L432.45,475.77 L432.72,475.68 L432.98,475.59 L433.25,475.50 L433.52,475.41 L433.78,475.32 L434.05,475.23 L434.31,475.13 L434.58,475.03 L434.84,474.93 L435.11,474.83 L435.38,474.73 L435.64,474.63 L435.91,474.53 L436.17,474.43 L436.44,474.33 L436.70,474.23 L436.97,474.11 L437.23,473.93 L437.50,473.76 L437.77,473.58 L438.03,473.20 L438.30,472.59 L438.56,471.99 L438.83,471.39 L439.09,470.79 L439.36,469.49 L439.62,468.17 L439.89,466.85 L440.16,465.53 L440.42,463.43 L440.69,461.17 L440.95,457.40 L441.22,452.76 L441.48,448.83 L441.75,444.90 L442.01,440.93 L442.28,436.29 L442.55,431.65 L442.81,427.01 L443.08,421.82 L443.34,416.05 L443.61,410.27 L443.87,404.49 L444.14,397.18 L444.40,389.70 L444.67,382.22 L444.94,374.60 L445.20,366.70 L445.47,358.80 L445.73,352.85 L446.00,348.84 L446.26,344.84 L446.53,340.84 L446.80,337.13 L447.06,333.54 L447.33,329.94 L447.59,326.35 L447.86,322.97 L448.12,319.74 L448.39,317.18 L448.65,314.90 L448.92,313.28 L449.19,312.48 L449.45,312.25 L449.72,312.09 L449.98,312.28 L450.25,312.59 L450.51,313.40 L450.78,315.21 L451.04,317.50 L451.31,320.18 L451.58,323.42 L451.84,326.85 L452.11,330.45 L452.37,334.05 L452.64,337.65 L452.90,341.41 L453.17,345.42 L453.43,349.43 L453.70,353.44 L453.97,359.89 L454.23,367.80 L454.50,375.71 L454.76,383.28 L455.03,390.76 L455.29,398.25 L455.56,405.35 L455.83,411.14 L456.09,416.92 L456.36,422.71 L456.62,427.76 L456.89,432.40 L457.15,437.05 L457.42,441.64 L457.68,445.58 L457.95,449.52 L458.22,453.46 L458.48,456.78 L458.75,460.02 L459.01,463.25 L459.28,465.97 L459.54,467.44 L459.81,468.92 L460.07,470.39 L460.34,471.75 L460.61,472.49 L460.87,473.24 L461.14,473.98 L461.40,474.72 L461.67,475.22 L461.93,475.58 L462.20,475.93 L462.46,476.29 L462.73,476.64 L463.00,477.00 L463.26,477.25 L463.53,477.16 L463.79,477.06 L464.06,476.97 L464.32,476.88 L464.59,476.79 L464.85,476.70 L465.12,476.62 L465.39,476.54 L465.65,476.46 L465.92,476.38 L466.18,476.31 L466.45,476.23 L466.71,476.32 L466.98,476.46 L467.25,476.60 L467.51,476.73 L467.78,476.87 L468.04,477.00 L468.31,477.14 L468.57,477.28 L468.84,477.41 L469.10,477.55 L469.37,477.67 L469.64,477.77 L469.90,477.87 L470.17,477.97 L470.43,478.07 L470.70,478.17 L470.96,478.27 L471.23,478.36 L471.49,478.46 L471.76,478.35 L472.03,478.24 L472.29,478.14 L472.56,478.03 L472.82,477.92 L473.09,477.82 L473.35,477.71 L473.62,477.60 L473.88,477.46 L474.15,477.31 L474.42,477.16 L474.68,477.01 L474.95,476.86 L475.21,476.71 L475.48,476.56 L475.74,476.41 L476.01,476.31 L476.27,476.22 L476.54,476.13 L476.81,476.04 L477.07,475.95 L477.34,475.86 L477.60,475.77 L477.87,475.67 L478.13,475.57 L478.40,475.47 L478.67,475.37 L478.93,475.27 L479.20,475.17 L479.46,475.07 L479.73,474.96 L479.99,474.86 L480.26,474.76 L480.52,474.65 L480.79,474.47 L481.06,474.30 L481.32,474.13 L481.59,473.77 L481.85,473.17 L482.12,472.57 L482.38,471.96 L482.65,471.36 L482.91,470.11 L483.18,468.79 L483.45,467.47 L483.71,466.16 L483.98,464.12 L484.24,461.86 L484.51,458.29 L484.77,453.57 L485.04,449.64 L485.30,445.71 L485.57,441.78 L485.84,437.15 L486.10,432.51 L486.37,427.87 L486.63,422.77 L486.90,416.99 L487.16,411.22 L487.43,405.44 L487.70,398.25 L487.96,390.77 L488.23,383.29 L488.49,375.70 L488.76,367.80 L489.02,359.90 L489.29,353.67 L489.55,349.66 L489.82,345.66 L490.09,341.66 L490.35,337.92 L490.62,334.33 L490.88,330.73 L491.15,327.14 L491.41,323.73 L491.68,320.51 L491.94,317.88 L492.21,315.59 L492.48,313.87 L492.74,313.06 L493.01,312.80 L493.27,312.61 L493.54,312.80 L493.80,313.06 L494.07,313.87 L494.33,315.57 L494.60,317.87 L494.87,320.48 L495.13,323.71 L495.40,327.12 L495.66,330.72 L495.93,334.32 L496.19,337.92 L496.46,341.65 L496.72,345.66 L496.99,349.67 L497.26,353.68 L497.52,359.85 L497.79,367.76 L498.05,375.66 L498.32,383.26 L498.58,390.75 L498.85,398.24 L499.12,405.46 L499.38,411.25 L499.65,417.03 L499.91,422.82 L500.18,427.95 L500.44,432.60 L500.71,437.24 L500.97,441.89 L501.24,445.83 L501.51,449.76 L501.77,453.70 L502.04,457.08 L502.30,460.31 L502.57,463.55 L502.83,466.40 L503.10,467.87 L503.36,469.34 L503.63,470.81 L503.90,472.23 L504.16,472.97 L504.43,473.71 L504.69,474.46 L504.96,475.20 L505.22,475.73 L505.49,476.08 L505.75,476.44 L506.02,476.79 L506.29,477.15 L506.55,477.50 L506.82,477.78 L507.08,477.69 L507.35,477.60 L507.61,477.51 L507.88,477.42 L508.15,477.33 L508.41,477.23 L508.68,477.15 L508.94,477.08 L509.21,477.00 L509.47,476.92 L509.74,476.84 L510.00,476.77 L510.27,476.84 L510.54,476.98 L510.80,477.12 L511.07,477.25 L511.33,477.39 L511.60,477.52 L511.86,477.66 L512.13,477.80 L512.39,477.93 L512.66,478.07" stroke="#bf00bf" stroke-width="1.7" fill="none" stroke-linejoin="round" stroke-linecap="square"/><rect x="56.00" y="286.40" width="478.40" height="206.40" fill="none" stroke="#000" stroke-width="1.0"/><line x1="53.20" y1="478.20" x2="56.00" y2="478.20" stroke="#000" stroke-width="1"/><text x="49.6" y="483.70" font-size="12.3" text-anchor="end">0.00</text><line x1="53.20" y1="447.78" x2="56.00" y2="447.78" stroke="#000" stroke-width="1"/><text x="49.6" y="453.28" font-size="12.3" text-anchor="end">0.05</text><line x1="53.20" y1="417.37" x2="56.00" y2="417.37" stroke="#000" stroke-width="1"/><text x="49.6" y="422.87" font-size="12.3" text-anchor="end">0.10</text><line x1="53.20" y1="386.95" x2="56.00" y2="386.95" stroke="#000" stroke-width="1"/><text x="49.6" y="392.45" font-size="12.3" text-anchor="end">0.15</text><line x1="53.20" y1="356.54" x2="56.00" y2="356.54" stroke="#000" stroke-width="1"/><text x="49.6" y="362.04" font-size="12.3" text-anchor="end">0.20</text><line x1="53.20" y1="326.12" x2="56.00" y2="326.12" stroke="#000" stroke-width="1"/><text x="49.6" y="331.62" font-size="12.3" text-anchor="end">0.25</text><line x1="53.20" y1="295.71" x2="56.00" y2="295.71" stroke="#000" stroke-width="1"/><text x="49.6" y="301.21" font-size="12.3" text-anchor="end">0.30</text><line x1="99.50" y1="492.80" x2="99.50" y2="495.40" stroke="#000" stroke-width="1"/><text x="99.50" y="508.00" font-size="12.3" text-anchor="middle">2006</text><line x1="159.23" y1="492.80" x2="159.23" y2="495.40" stroke="#000" stroke-width="1"/><text x="159.23" y="508.00" font-size="12.3" text-anchor="middle">2007</text><line x1="218.96" y1="492.80" x2="218.96" y2="495.40" stroke="#000" stroke-width="1"/><text x="218.96" y="508.00" font-size="12.3" text-anchor="middle">2009</text><line x1="278.69" y1="492.80" x2="278.69" y2="495.40" stroke="#000" stroke-width="1"/><text x="278.69" y="508.00" font-size="12.3" text-anchor="middle">2010</text><line x1="338.42" y1="492.80" x2="338.42" y2="495.40" stroke="#000" stroke-width="1"/><text x="338.42" y="508.00" font-size="12.3" text-anchor="middle">2011</text><line x1="398.15" y1="492.80" x2="398.15" y2="495.40" stroke="#000" stroke-width="1"/><text x="398.15" y="508.00" font-size="12.3" text-anchor="middle">2013</text><line x1="457.88" y1="492.80" x2="457.88" y2="495.40" stroke="#000" stroke-width="1"/><text x="457.88" y="508.00" font-size="12.3" text-anchor="middle">2014</text><line x1="517.61" y1="492.80" x2="517.61" y2="495.40" stroke="#000" stroke-width="1"/><text x="517.61" y="508.00" font-size="12.3" text-anchor="middle">2016</text><text x="295.2" y="523.50" font-size="14.1" text-anchor="middle">Date</text><text transform="translate(16.6,390.05) rotate(-90)" x="0" y="0" font-size="13.6" text-anchor="middle">NDVI</text><text x="61.2" y="311.40" font-size="21.5">B</text><rect x="112.1" y="283.90" width="368.8" height="21.00" rx="2.2" fill="#000" fill-opacity="0.42"/><rect x="110.6" y="282.30" width="368.8" height="21.00" rx="2.2" fill="#fff" stroke="#ccc" stroke-width="1"/><circle cx="127.6" cy="291.90" r="1.95" fill="#000"/><text x="150.0" y="295.90" font-size="12.3">Original data</text><line x1="254.4" y1="291.90" x2="280.4" y2="291.90" stroke="#ff2e2e" stroke-width="1.7"/><text x="290.0" y="295.90" font-size="12.3">Change</text><line x1="361.6" y1="291.90" x2="387.4" y2="291.90" stroke="#bf00bf" stroke-width="1.7"/><text x="397.0" y="295.90" font-size="12.3">Fitted model</text></g>
</svg></body></html>
